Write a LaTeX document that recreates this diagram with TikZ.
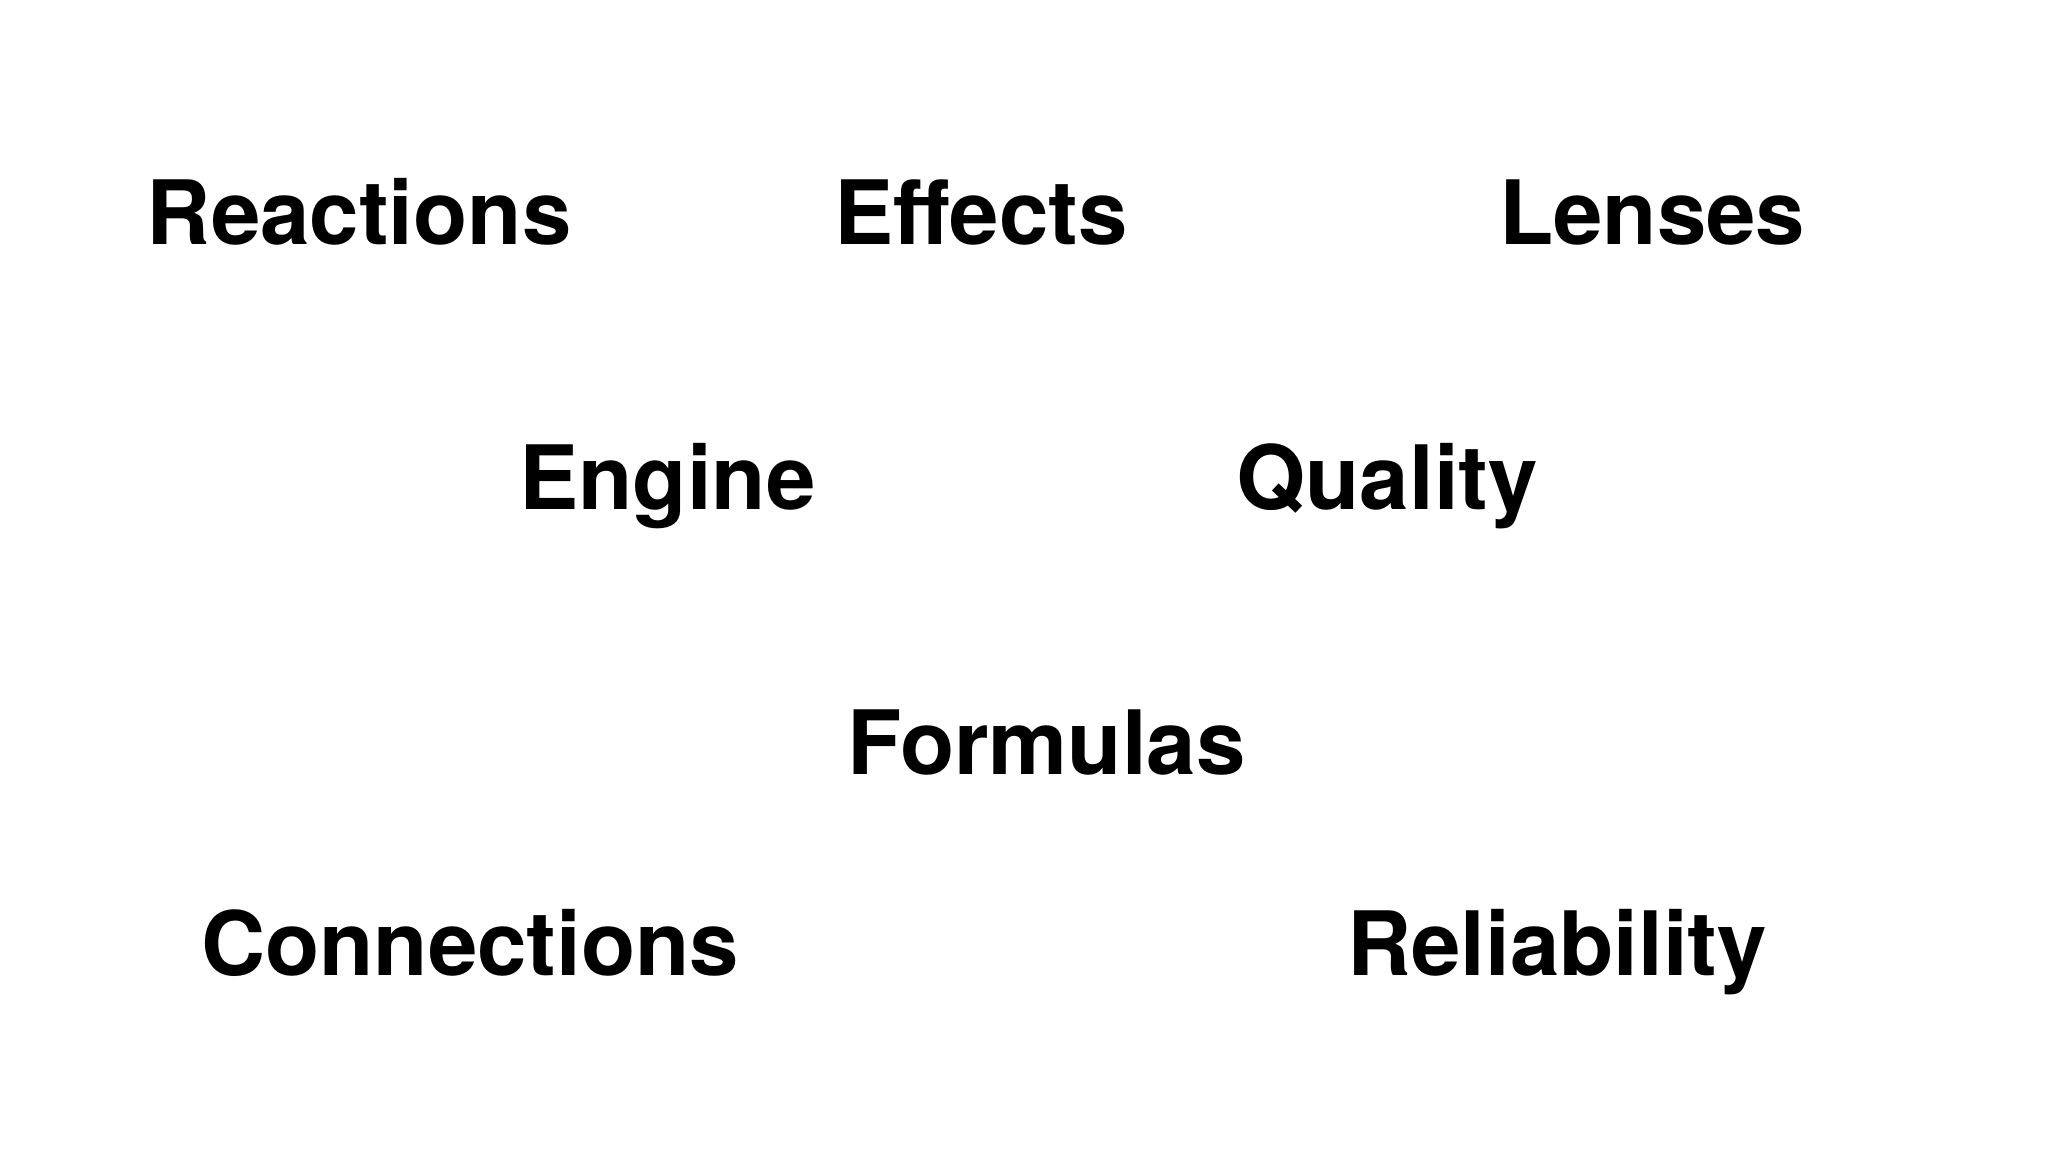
\documentclass[tikz,border=0pt]{standalone}
\usepackage{fontspec}
\setmainfont{TeX Gyre Heros}
\begin{document}
\begin{tikzpicture}[x=1pt,y=1pt,w/.style={font=\fontsize{68}{80}\selectfont\bfseries,anchor=base,inner sep=0pt}]
\useasboundingbox[fill=white] (0,0) rectangle (1568,882);
\node[w] (r) at (275,695) {Reactions};
\node[w] (e) at (751,695) {Effects};
\node[w] (l) at (1265,695) {Lenses};
\node[w] (en) at (511,492) {Engine};
\node[w] (q) at (1062,492) {Quality};
\node[w] (f) at (801,289) {Formulas};
\node[w] (c) at (360,135) {Connections};
\node[w] (re) at (1192,135) {Reliability};
\end{tikzpicture}
\end{document}
